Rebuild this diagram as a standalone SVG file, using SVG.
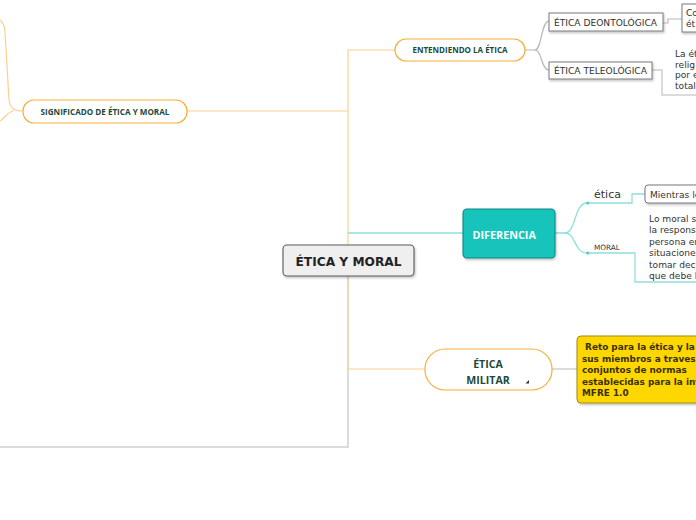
<svg xmlns="http://www.w3.org/2000/svg" width="696" height="520" viewBox="0 0 696 520">
<style>
.orn{fill:none;stroke:#fcd08f;stroke-width:1.2}
.tan{fill:none;stroke:#e3bd80;stroke-width:1.2}
.gry{fill:none;stroke:#b8b8b8;stroke-width:1.2}
.lgr{fill:none;stroke:#d0d0cc;stroke-width:1.5}
.cyn{fill:none;stroke:#8ee0dc;stroke-width:1.3}
.pill{fill:#ffffff;stroke:#f9ae3a;stroke-width:1.2}
.ttl{font-family:"Open Sans","DejaVu Sans",sans-serif;font-weight:bold;fill:#1c4a3a}
.box{fill:#ffffff;stroke:#7a7a7a;stroke-width:1}
.t{font-family:"DejaVu Sans",Verdana,sans-serif;fill:#333333;font-size:9.1px}
.yb{font-family:"DejaVu Sans",Verdana,sans-serif;font-weight:bold;fill:#3a3000;font-size:8.9px}
</style>
<defs>
<filter id="sh" x="-10%" y="-10%" width="130%" height="140%">
<feDropShadow dx="1" dy="1.5" stdDeviation="0.8" flood-color="#000" flood-opacity="0.25"/>
</filter>
</defs>
<rect width="696" height="520" fill="#ffffff"/>
<g id="connectors">
<path class="orn" d="M348,245 L348,50 L395,50"/>
<path class="orn" d="M187,111 L348,111"/>
<path class="cyn" d="M348,233 L463,233"/>
<path class="tan" d="M348,276 L348,369"/>
<path class="orn" d="M348,369 L425,369"/>
<path class="lgr" d="M348,369 L348,447 L0,447"/>
<path class="orn" d="M23,111 C14,111 10,108 9,100 L5,32 C4.5,26 3,22 0,20"/>
<path class="orn" d="M14,111 C8,111 5,118 0,121"/>
<path class="gry" d="M525,50 L535,50 C542,50 541,21 549,21"/>
<path class="gry" d="M535,50 C542,50 541,70 549,70"/>
<path class="gry" d="M663,23 L668,23 L668,19 L682,19"/>
<path class="lgr" d="M652,70 L662,70 L662,95 L696,95"/>
<path class="cyn" d="M555,233 L565,233 C576,233 574,203 587,203"/>
<path class="cyn" d="M565,233 C576,233 574,253 587,253"/>
<circle cx="588" cy="203" r="1.6" fill="#2fc7bf"/>
<circle cx="588" cy="253" r="1.6" fill="#2fc7bf"/>
<path class="cyn" d="M588,203 L632,203 L632,194 L645,194"/>
<path class="cyn" d="M588,253 L635,253 L635,282 L696,282"/>
<path class="lgr" d="M552,369 L577,369"/>
</g>
<g id="central">
<rect x="283" y="245" width="131" height="31" rx="4" fill="#efefef" stroke="#5a5a5a" stroke-width="1.1" filter="url(#sh)"/>
<text x="348.5" y="266" text-anchor="middle" font-family="'DejaVu Sans',Verdana,sans-serif" font-weight="bold" font-size="12.2" fill="#222222">ÉTICA Y MORAL</text>
</g>
<g id="significado">
<rect class="pill" x="23" y="100" width="164" height="23" rx="11"/>
<text class="ttl" x="105" y="114.5" text-anchor="middle" font-size="8.1">SIGNIFICADO DE ÉTICA Y MORAL</text>
</g>
<g id="entendiendo">
<rect class="pill" x="395" y="39" width="130" height="22" rx="11"/>
<text class="ttl" x="460" y="53" text-anchor="middle" font-size="8">ENTENDIENDO LA ÉTICA</text>
</g>
<g id="deontologica">
<rect class="box" x="549" y="13" width="114" height="18" filter="url(#sh)"/>
<text class="t" x="554" y="25.5">ÉTICA DEONTOLÓGICA</text>
</g>
<g id="deontologica-desc">
<rect class="box" x="682" y="4" width="30" height="28" filter="url(#sh)"/>
<text class="t" x="686" y="15.5">Co</text>
<text class="t" x="686" y="27">ét</text>
</g>
<g id="teleologica">
<rect class="box" x="549" y="62" width="103" height="17" filter="url(#sh)"/>
<text class="t" x="554" y="74">ÉTICA TELEOLÓGICA</text>
</g>
<g id="teleologica-desc">
<text class="t" x="675" y="57">La ét</text>
<text class="t" x="675" y="67.5">relig</text>
<text class="t" x="675" y="78">por e</text>
<text class="t" x="675" y="88.5">total</text>
</g>
<g id="diferencia">
<rect x="463" y="209" width="92" height="49" rx="4" fill="#13c4bb" stroke="#0e8a83" stroke-width="1.1" filter="url(#sh)"/>
<text x="472.5" y="239" font-family="'Open Sans','DejaVu Sans',sans-serif" font-weight="bold" font-size="10.8" fill="#ffffff">DIFERENCIA</text>
</g>
<g id="etica">
<text x="594" y="198" font-family="'DejaVu Sans',Verdana,sans-serif" font-size="11" fill="#333333">ética</text>
</g>
<g id="etica-desc">
<rect x="645" y="185" width="60" height="18" rx="3" fill="#ffffff" stroke="#777777" stroke-width="1" filter="url(#sh)"/>
<text class="t" x="650" y="197.5">Mientras le</text>
</g>
<g id="moral">
<text x="594" y="249.5" font-family="'DejaVu Sans',Verdana,sans-serif" font-size="7.3" fill="#333333">MORAL</text>
</g>
<g id="moral-desc">
<text class="t" x="649" y="221.5">Lo moral s</text>
<text class="t" x="649" y="233">la responsa</text>
<text class="t" x="649" y="244.5">persona en</text>
<text class="t" x="649" y="256">situaciones</text>
<text class="t" x="649" y="267.5">tomar deci</text>
<text class="t" x="649" y="279">que debe h</text>
</g>
<g id="militar">
<rect class="pill" x="425" y="349" width="127" height="41" rx="20"/>
<text class="ttl" x="488" y="368" text-anchor="middle" font-size="10.6">ÉTICA</text>
<text class="ttl" x="488" y="384" text-anchor="middle" font-size="10.6">MILITAR</text>
<polygon points="529,380 529,383.5 525.5,383.5" fill="#333333"/>
</g>
<g id="militar-desc">
<rect x="577" y="336" width="130" height="67" rx="4" fill="#ffd700" stroke="#a38a1a" stroke-width="1" filter="url(#sh)"/>
<text class="yb" x="582" y="350" xml:space="preserve"> Reto para la ética y la</text>
<text class="yb" x="582" y="361.5">sus miembros a traves</text>
<text class="yb" x="582" y="373">conjuntos de normas</text>
<text class="yb" x="582" y="384.5">establecidas para la int</text>
<text class="yb" x="582" y="396">MFRE 1.0</text>
</g>
</svg>
